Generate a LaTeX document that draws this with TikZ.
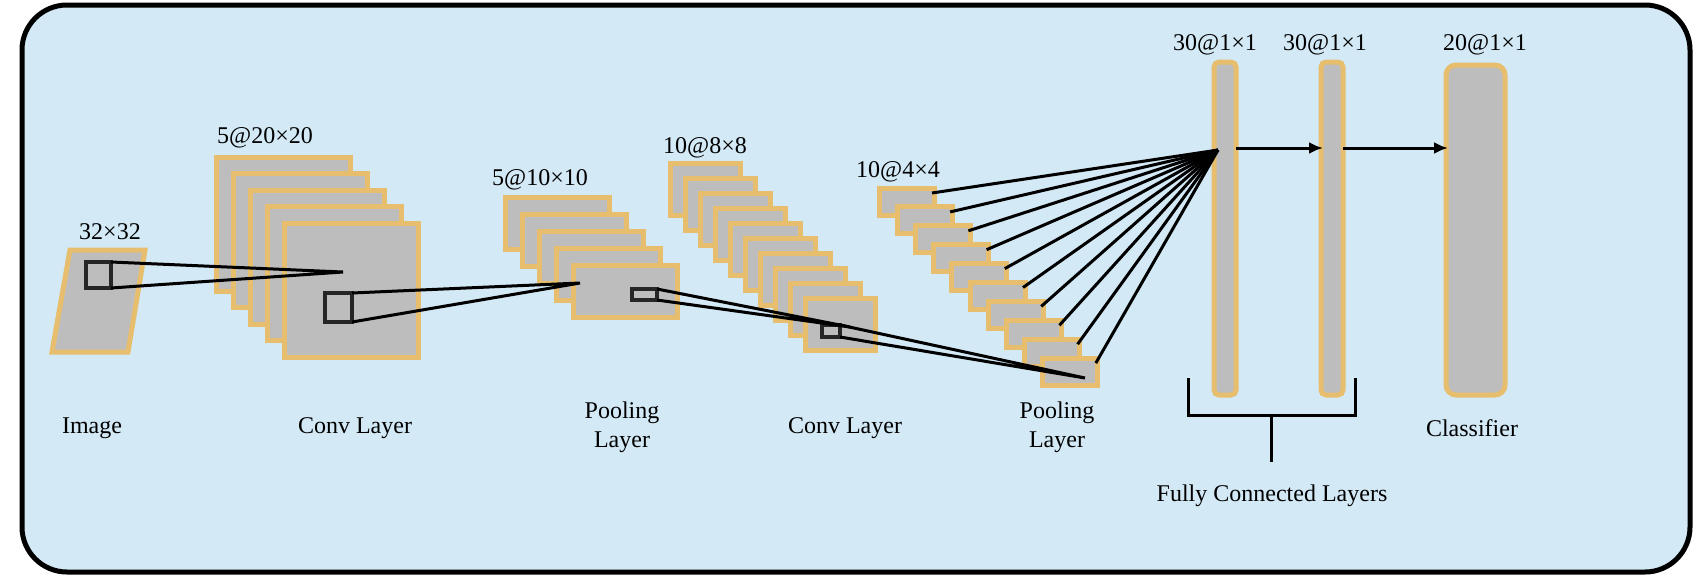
\documentclass[tikz,border=0pt]{standalone}
\usepackage{fontspec}
\setmainfont{Liberation Serif}
\usetikzlibrary{arrows.meta}
\begin{document}
\begin{tikzpicture}[x=1pt,y=-1pt,
  fmap/.style={draw=mapedge,fill=mapfill,line width=5pt},
  kern/.style={draw=black!85,line width=3.5pt},
  conn/.style={draw=black,line width=3pt},
  lbl/.style={font=\fontsize{24}{29}\selectfont,inner sep=0pt},
  bar/.style={draw=mapedge,fill=mapfill,line width=5pt,rounded corners=5pt}]
\definecolor{bg}{HTML}{D3E9F6}
\definecolor{mapfill}{HTML}{BDBDBD}
\definecolor{mapedge}{HTML}{E6BE6E}
\useasboundingbox (0,0) rectangle (1699,579);
\fill[white] (0,0) rectangle (1699,579);
\draw[fill=bg,line width=5pt,rounded corners=45pt] (22,5) rectangle (1690,572);
% image
\draw[fmap] (70,250) -- (145,250) -- (128,352) -- (52,352) -- cycle;
\draw[kern] (86,262) rectangle (111,288);
\coordinate (i1) at (111,262); \coordinate (i2) at (111,288);
% conv1
\foreach \i in {0,...,4}{\draw[fmap] (216+17*\i,157+16.5*\i) rectangle ++(134,134);}
\coordinate (c1p) at (343,272);
\draw[kern] (325,293) rectangle (352,322);
\coordinate (c1a) at (352,293); \coordinate (c1b) at (352,322);
% pool1
\foreach \i in {0,...,4}{\draw[fmap] (505+17*\i,197+17*\i) rectangle ++(104,52);}
\coordinate (p1p) at (580,283);
\draw[kern] (632,289) rectangle (657,300);
\coordinate (p1a) at (657,289); \coordinate (p1b) at (657,300);
% conv2
\foreach \i in {0,...,9}{\draw[fmap] (670+15*\i,163+15*\i) rectangle ++(70,52);}
\coordinate (c2p) at (850,327);
\draw[kern] (822,325) rectangle (840,337);
\coordinate (c2a) at (840,325); \coordinate (c2b) at (840,337);
% pool2
\foreach \i in {0,...,9}{\draw[fmap] (879+18.2*\i,188+18.9*\i) rectangle ++(55,27);}
\coordinate (p2p) at (1085,378);
% fc
\draw[bar] (1214,62) rectangle (1236,395);
\draw[bar] (1321,62) rectangle (1343,395);
\draw[bar,rounded corners=10pt] (1446,65) rectangle (1505,395);
\coordinate (hub) at (1218,150);
% connectors
\draw[conn] (i1) -- (c1p) -- (i2);
\draw[conn] (c1a) -- (p1p) -- (c1b);
\draw[conn] (p1a) -- (c2p) -- (p1b);
\draw[conn] (c2a) -- (p2p) -- (c2b);
\foreach \i in {0,...,9}{\draw[conn] (879+55+18.2*\i-2,188+18.9*\i+5) -- (hub);}
\draw[conn,-{Latex[length=14pt,width=12pt]}] (1236,148) -- (1323,148);
\draw[conn,-{Latex[length=14pt,width=12pt]}] (1343,148) -- (1448,148);
\draw[line width=3pt] (1188,378) -- (1188,415) -- (1355,415) -- (1355,378);
\draw[line width=3pt] (1271,415) -- (1271,462);
% labels
\node[lbl] (t1) at (110,232) {32×32};
\node[lbl] (t2) at (265,138) {5@20×20};
\node[lbl] (t3) at (540,180) {5@10×10};
\node[lbl] (t4) at (705,148) {10@8×8};
\node[lbl] (t5) at (898,172) {10@4×4};
\node[lbl] (t6) at (1215,45) {30@1×1};
\node[lbl] (t7) at (1325,45) {30@1×1};
\node[lbl] (t8) at (1485,45) {20@1×1};
\node[lbl] (l1) at (92,428) {Image};
\node[lbl] (l2) at (355,428) {Conv Layer};
\node[lbl,align=center] (l3) at (622,427) {Pooling\\Layer};
\node[lbl] (l4) at (845,428) {Conv Layer};
\node[lbl,align=center] (l5) at (1057,427) {Pooling\\Layer};
\node[lbl] (l6) at (1472,428) {Classifier};
\node[lbl] (l7) at (1272,496) {Fully Connected Layers};
\end{tikzpicture}
\end{document}
